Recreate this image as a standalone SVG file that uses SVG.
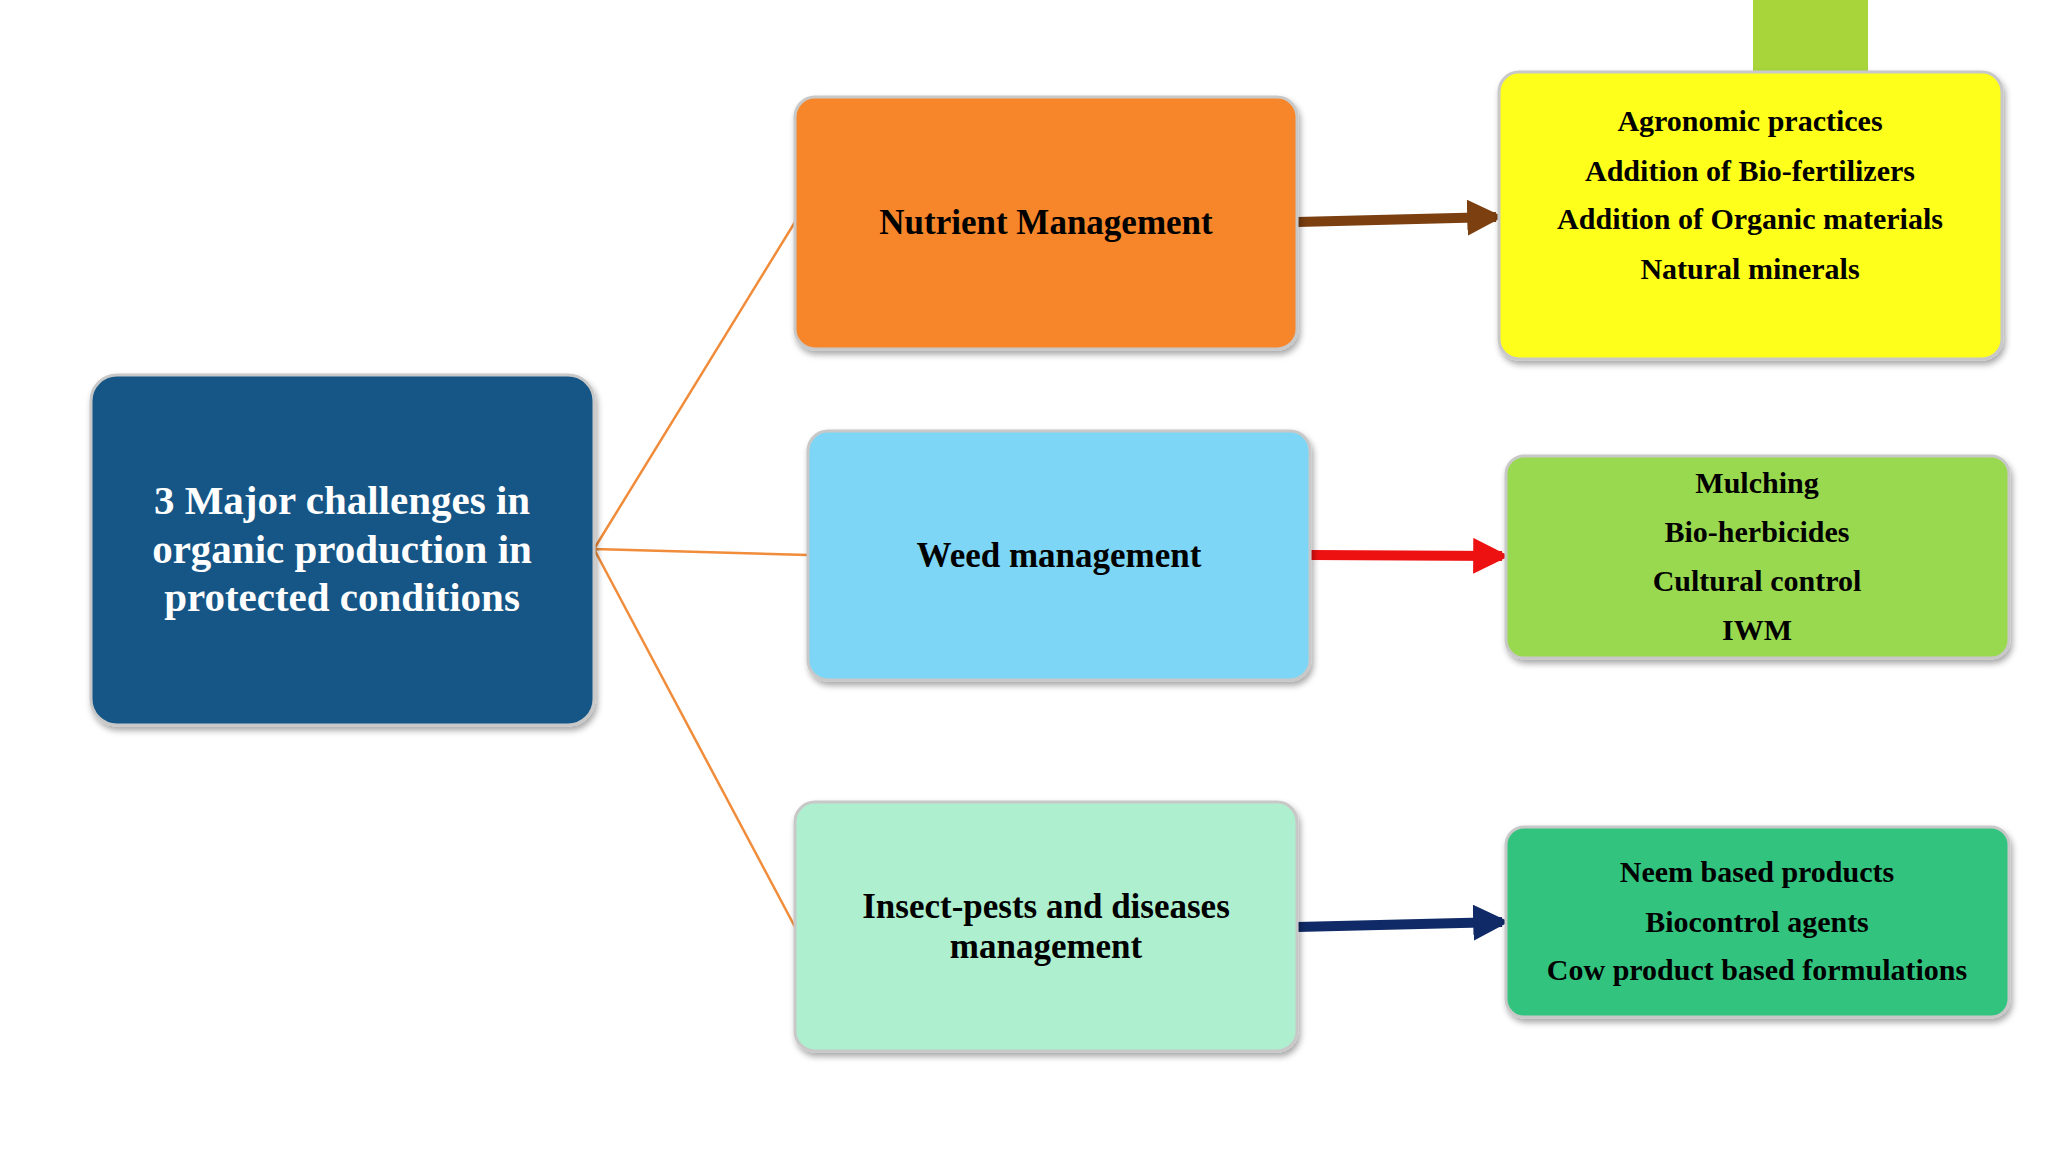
<svg xmlns="http://www.w3.org/2000/svg" width="2048" height="1152" viewBox="0 0 2048 1152">
<style>
.box{stroke:#c8c8c8;stroke-width:3;filter:url(#sh)}
.t{font-family:"Liberation Serif",serif;font-weight:bold;text-anchor:middle;fill:#000}
.big{font-size:35px}
.sm{font-size:30px}
</style>
<defs>
<filter id="sh" x="-10%" y="-10%" width="120%" height="120%"><feDropShadow dx="2" dy="4" stdDeviation="3" flood-opacity="0.35"/></filter>
<marker id="ab" viewBox="0 0 10 10" refX="8" refY="5" markerWidth="3.6" markerHeight="3.6" orient="auto"><path d="M0,0L10,5L0,10z" fill="#7B3F10"/></marker>
<marker id="ar" viewBox="0 0 10 10" refX="8" refY="5" markerWidth="3.6" markerHeight="3.6" orient="auto"><path d="M0,0L10,5L0,10z" fill="#EE1111"/></marker>
<marker id="an" viewBox="0 0 10 10" refX="8" refY="5" markerWidth="3.6" markerHeight="3.6" orient="auto"><path d="M0,0L10,5L0,10z" fill="#0F2A66"/></marker>
</defs>
<rect width="2048" height="1152" fill="#fff"/>
<rect x="1753" y="0" width="115" height="74" fill="#A8D53A"/>
<g id="connectors" fill="none">
<path d="M594,549L795,222M594,549L808,555M594,549L795,927" stroke="#F08C3A" stroke-width="2.5"/>
<path d="M1297,222L1496,217" stroke="#7B3F10" stroke-width="10" marker-end="url(#ab)"/>
<path d="M1310,555L1502,556" stroke="#EE1111" stroke-width="10" marker-end="url(#ar)"/>
<path d="M1297,927L1502,922" stroke="#0F2A66" stroke-width="10" marker-end="url(#an)"/>
</g>
<g id="main"><rect class="box" x="91" y="375" width="503" height="350" rx="26" fill="#135686"/>
<text class="t" style="font-size:41px;fill:#fff"><tspan x="342" y="514">3 Major challenges in</tspan><tspan x="342" y="563">organic production in</tspan><tspan x="342" y="611">protected conditions</tspan></text></g>
<g id="nutrient"><rect class="box" x="795" y="97" width="502" height="252" rx="20" fill="#F7862A"/>
<text class="t big" x="1046" y="234">Nutrient Management</text></g>
<g id="weed"><rect class="box" x="808" y="431" width="502" height="249" rx="20" fill="#7DD6F5"/>
<text class="t big" x="1059" y="567">Weed management</text></g>
<g id="insect"><rect class="box" x="795" y="802" width="502" height="249" rx="20" fill="#AEEFCF"/>
<text class="t big"><tspan x="1046" y="918">Insect-pests and diseases</tspan><tspan x="1046" y="958">management</tspan></text></g>
<g id="nutrient-list"><rect class="box" x="1499" y="72" width="503" height="287" rx="20" fill="#FFFF1A"/>
<text class="t sm"><tspan x="1750" y="131">Agronomic practices</tspan><tspan x="1750" y="181">Addition of Bio-fertilizers</tspan><tspan x="1750" y="229">Addition of Organic materials</tspan><tspan x="1750" y="279">Natural minerals</tspan></text></g>
<g id="weed-list"><rect class="box" x="1506" y="456" width="503" height="202" rx="18" fill="#99D94F"/>
<text class="t sm"><tspan x="1757" y="493">Mulching</tspan><tspan x="1757" y="542">Bio-herbicides</tspan><tspan x="1757" y="591">Cultural control</tspan><tspan x="1757" y="640">IWM</tspan></text></g>
<g id="insect-list"><rect class="box" x="1506" y="827" width="503" height="190" rx="18" fill="#33C47F"/>
<text class="t sm"><tspan x="1757" y="882">Neem based products</tspan><tspan x="1757" y="932">Biocontrol agents</tspan><tspan x="1757" y="980">Cow product based formulations</tspan></text></g>
</svg>
